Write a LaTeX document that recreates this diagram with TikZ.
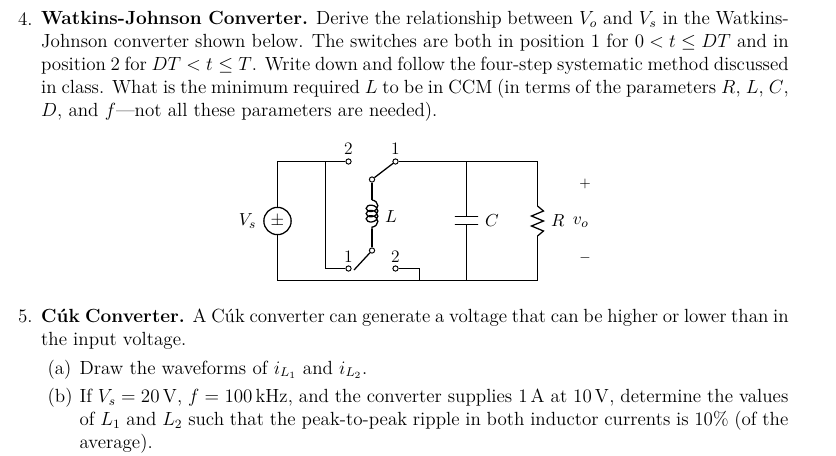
\documentclass[tikz,border=0pt]{standalone}
\usepackage{xcolor}
\usetikzlibrary{decorations.pathmorphing}

\begin{document}
\begin{tikzpicture}[
  x=0.63pt,y=-0.63pt,
  line width=0.8pt,
  para/.style={anchor=north west,inner sep=0pt,align=justify,font=\fontsize{12}{14.5}\selectfont},
  enumlabel/.style={anchor=base west,inner sep=0pt,font=\fontsize{12}{14.5}\selectfont},
  terminal/.style={circle,draw,fill=white,inner sep=0pt,minimum size=3.3pt,line width=0.6pt},
  lbl/.style={inner sep=0pt,font=\fontsize{11}{13}\selectfont},
  sign/.style={inner sep=0pt,font=\fontsize{9}{11}\selectfont},
  plate/.style={rectangle,draw,inner sep=0pt,minimum width=14.6pt,minimum height=0pt},
  source/.style={circle,draw,inner sep=0pt,minimum size=17.2pt,font=\fontsize{11}{13}\selectfont}
]
\useasboundingbox (0,0) rectangle (836,456);

% problem text
\node[para,text width=471pt] (probA) at (40.5,11) {\textbf{Watkins-Johnson Converter.} Derive the relationship between $V_o$ and $V_s$ in the Watkins-\linebreak
Johnson converter shown below. The switches are both in position 1 for $0<t\leq DT$ and in\linebreak
position 2 for $DT<t\leq T$. Write down and follow the four-step systematic method discussed\linebreak
in class. What is the minimum required $L$ to be in CCM (in terms of the parameters $R$, $L$, $C$,\linebreak
$D$, and $f$---not all these parameters are needed).};
\node[enumlabel] (numA) at (17.5,25) {4.};
\node[para,text width=471pt] (probB) at (40.5,308.5) {\textbf{Cúk Converter.} A Cúk converter can generate a voltage that can be higher or lower than in\linebreak
the input voltage.};
\node[enumlabel] (numB) at (17.5,322.5) {5.};
\node[para,text width=446.5pt] (partA) at (79,360) {Draw the waveforms of $i_{L_1}$ and $i_{L_2}$.};
\node[enumlabel] (tagA) at (47,374) {(a)};
\node[para,text width=446.5pt] (partB) at (79,388.5) {If $V_s=20\,\mathrm{V}$, $f=100\,\mathrm{kHz}$, and the converter supplies $1\,\mathrm{A}$ at $10\,\mathrm{V}$, determine the values\linebreak
of $L_1$ and $L_2$ such that the peak-to-peak ripple in both inductor currents is 10\% (of the\linebreak
average).};
\node[enumlabel] (tagB) at (47,402.5) {(b)};

% circuit
\node[source] (vsrc) at (277.5,221) {$\pm$};
\node[terminal] (topB) at (348.5,161.5) {};
\node[terminal] (topA) at (395.5,161.5) {};
\node[terminal] (topP) at (372,179.5) {};
\node[terminal] (botP) at (372,250.5) {};
\node[terminal] (botA) at (348.5,268.5) {};
\node[terminal] (botB) at (395.5,268.5) {};
\node[plate] (plateT) at (466.5,216.5) {};
\node[plate] (plateB) at (466.5,224.5) {};
\coordinate (tl) at (277.5,161.5);
\coordinate (bl) at (277.5,280.5);
\coordinate (tj) at (325.5,161.5);
\coordinate (bj) at (419.5,280.5);
\coordinate (tc) at (466.5,161.5);
\coordinate (bc) at (466.5,280.5);
\coordinate (tr) at (537.5,161.5);
\coordinate (br) at (537.5,280.5);
\coordinate (indT) at (372,200);
\coordinate (indB) at (372,229);
\coordinate (resT) at (537.5,206);
\coordinate (resB) at (537.5,236);
\coordinate (blade) at (354,270);

\draw (vsrc.north) -- (tl) -- (topB);
\draw (vsrc.south) -- (bl) -- (br) -- (resB);
\draw (tj) |- (botA);
\draw (topA) -- (tr) -- (resT);
\draw (topA) -- (topP);
\draw (topP) -- (indT);
\draw (indB) -- (botP);
\draw (botP) -- (blade);
\draw (botB) -| (bj);
\draw (tc) -- (plateT);
\draw (bc) -- (plateB);
\draw[decorate,decoration={coil,aspect=0.75,segment length=3.3pt,amplitude=3.7pt}] (indT) -- (indB);
\draw (resT) -- ++(6,5) -- ++(-12,5) -- ++(12,5) -- ++(-12,5) -- ++(12,5) -- (resB);

\node[lbl] (lblTB) at (348.5,149) {2};
\node[lbl] (lblTA) at (395.5,149) {1};
\node[lbl] (lblBA) at (348.5,257) {1};
\node[lbl] (lblBB) at (395.5,257) {2};
\node[lbl] (lblL) at (391,217) {$L$};
\node[lbl] (lblC) at (492,221) {$C$};
\node[lbl] (lblR) at (557.7,221) {$R$};
\node[lbl] (lblVs) at (247.5,221) {$V_s$};
\node[lbl] (lblVo) at (580.7,222) {$v_o$};
\node[sign] (lblP) at (585,184) {$+$};
\node[sign] (lblM) at (585,258) {$-$};
\end{tikzpicture}
\end{document}
